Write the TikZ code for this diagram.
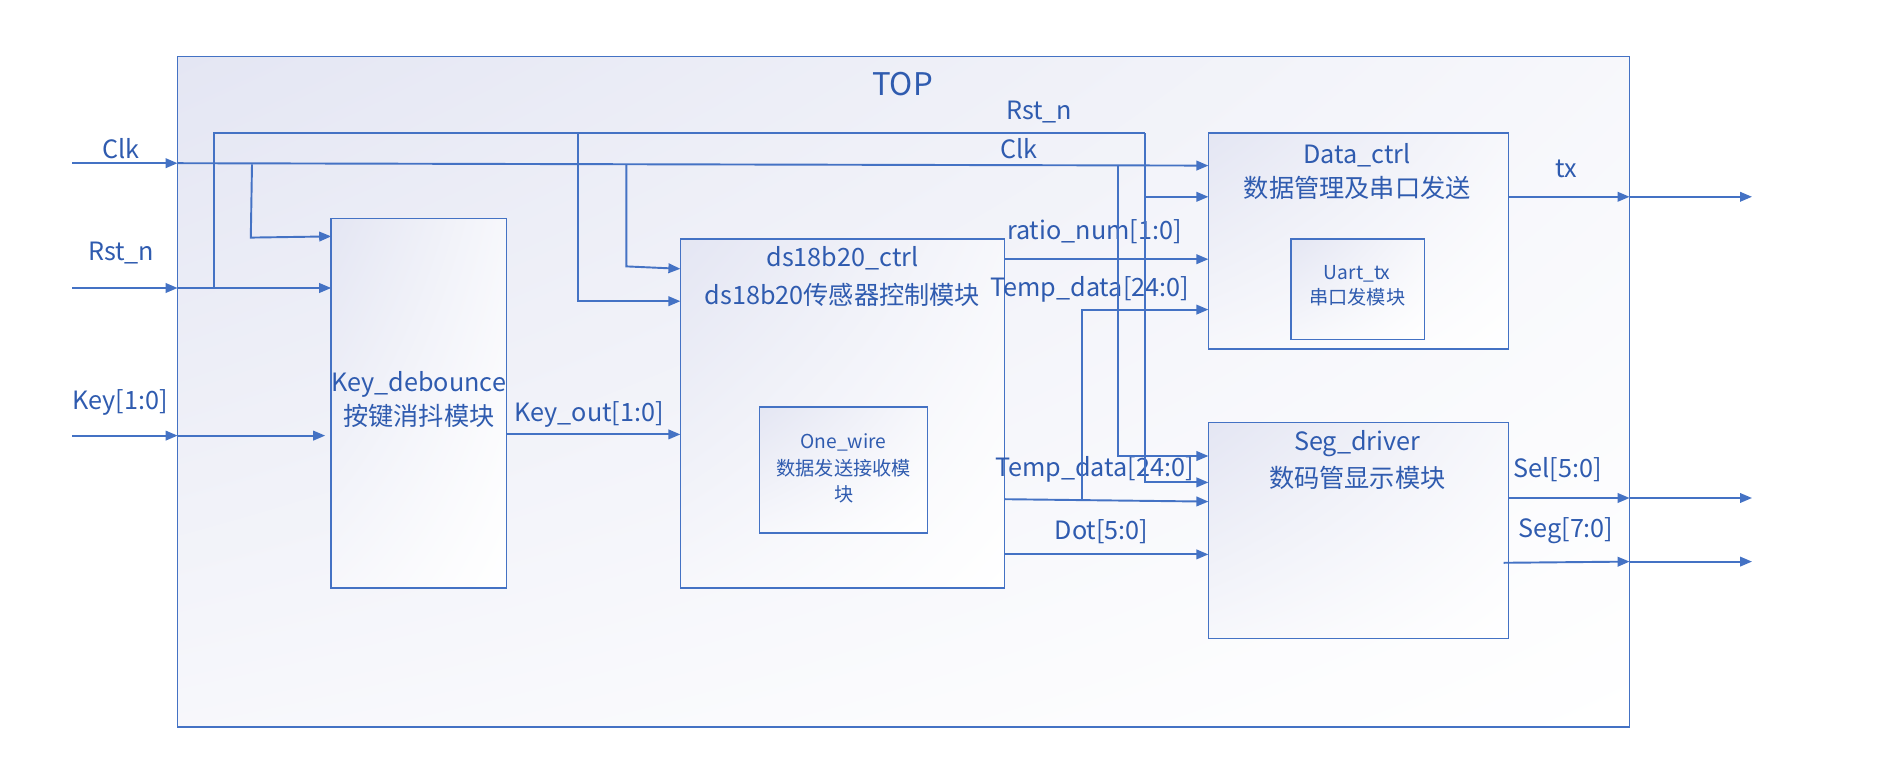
\documentclass[tikz,border=0pt]{standalone}
\usepackage{fontspec}
\setmainfont{Noto Sans CJK SC}
\usetikzlibrary{arrows.meta,shadings}
\definecolor{ln}{HTML}{4472C4}
\definecolor{tx}{HTML}{2F5BAF}
\definecolor{lav}{HTML}{E4E6F3}
\begin{document}
\begin{tikzpicture}[x=0.5pt,y=-0.5pt,
  box/.style={draw=ln,line width=0.6pt,upper left=lav,lower right=white,upper right=white!70!lav,lower left=white!70!lav},
  w/.style={draw=ln,line width=0.8pt},
  a/.style={w,-{Triangle[length=5pt,width=4pt]}},
  lb/.style={text=tx,font=\fontsize{10.5}{12}\selectfont,inner sep=0pt},
  sm/.style={text=tx,font=\fontsize{8}{10}\selectfont,inner sep=0pt}]
\useasboundingbox (0,0) rectangle (1565,636);
\path[box] (148,47) rectangle (1358,606);
\node[lb,font=\fontsize{13}{15}\selectfont] (top) at (752,70) {TOP};
\path[box] (276,182) rectangle (422,490);
\path[box] (567,199) rectangle (837,490);
\path[box] (633,339) rectangle (773,444);
\path[box] (1007,111) rectangle (1257,291);
\path[box] (1076,199) rectangle (1187,283);
\path[box] (1007,352) rectangle (1257,532);
\node[lb] (kd1) at (349,320) {Key\_debounce};
\node[lb] (kd2) at (349,347) {按键消抖模块};
\node[lb] (ds1) at (702,215) {ds18b20\_ctrl};
\node[lb] (ds2) at (702,246) {ds18b20传感器控制模块};
\node[sm] (ow1) at (703,369) {One\_wire};
\node[sm] (ow2) at (703,390) {数据发送接收模};
\node[sm] (ow3) at (703,412) {块};
\node[lb] (dc1) at (1131,129) {Data\_ctrl};
\node[lb] (dc2) at (1131,157) {数据管理及串口发送};
\node[sm] (ut1) at (1131,228) {Uart\_tx};
\node[sm] (ut2) at (1131,248) {串口发模块};
\node[lb] (sd1) at (1131,370) {Seg\_driver};
\node[lb] (sd2) at (1131,398) {数码管显示模块};
% labels
\node[lb] at (101,124) {Clk};
\node[lb] at (101,211) {Rst\_n};
\node[lb] at (100,335) {Key[1:0]};
\node[lb] at (866,93) {Rst\_n};
\node[lb] at (849,124) {Clk};
\node[lb] at (491,345) {Key\_out[1:0]};
\node[lb] at (912,193) {ratio\_num[1:0]};
\node[lb] at (908,241) {Temp\_data[24:0]};
\node[lb] at (912,391) {Temp\_data[24:0]};
\node[lb] at (918,443) {Dot[5:0]};
\node[lb] at (1305,141) {tx};
\node[lb] at (1298,391) {Sel[5:0]};
\node[lb] at (1305,442) {Seg[7:0]};
% coordinates
\coordinate (clkin) at (60,136); \coordinate (clkt) at (148,136);
\coordinate (rstin) at (60,240); \coordinate (rstt) at (148,240);
\coordinate (keyin) at (60,363); \coordinate (keyt) at (148,363);
% Clk
\draw[a] (clkin) -- (clkt);
\draw[a] (clkt) -- (1007,138);
\draw[a] (210,137) -- (209,198) -- (276,197);
\draw[a] (522,137) -- (522,222) -- (567,224);
\draw[a] (932,138) -- (932,380) -- (1007,380);
% Rst
\draw[a] (rstin) -- (rstt);
\draw[a] (rstt) -- (276,240);
\draw[w] (178,240) -- (178,111) -- (954,111);
\draw[a] (954,111) -- (954,402) -- (1007,402);
\draw[a] (482,111) -- (482,251) -- (567,251);
\draw[a] (954,164) -- (1007,164);
% Key
\draw[a] (keyin) -- (keyt);
\draw[a] (keyt) -- (271,363);
\draw[a] (422,362) -- (567,362);
% ds18b20 outputs
\draw[a] (837,216) -- (1007,216);
\draw[a] (837,416) -- (1007,418);
\draw[a] (902,417) -- (902,258) -- (1007,258);
\draw[a] (837,462) -- (1007,462);
% outputs
\draw[a] (1257,164) -- (1358,164); \draw[a] (1358,164) -- (1460,164);
\draw[a] (1257,415) -- (1358,415); \draw[a] (1358,415) -- (1460,415);
\draw[a] (1253,469) -- (1358,468); \draw[a] (1358,468) -- (1460,468);
\end{tikzpicture}
\end{document}
